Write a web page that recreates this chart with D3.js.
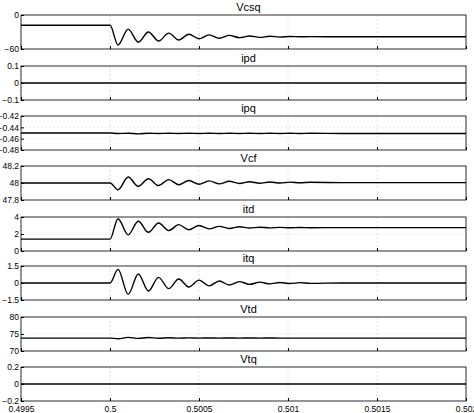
<!DOCTYPE html>
<html><head><meta charset="utf-8">
<script src="https://cdn.jsdelivr.net/npm/d3@7"></script>
<style>body{margin:0;background:#fff}text{font-family:Arial,"Liberation Sans",sans-serif}</style>
</head><body><svg id="c" width="474" height="413"></svg>
<script>
// shared time points (s): step, extrema of the ringing, settled end
var tPts = [0.4995, 0.5, 0.500045, 0.500102, 0.500159, 0.500216, 0.500273, 0.500330, 0.500386,
  0.500443, 0.500500, 0.500557, 0.500614, 0.500670, 0.500727, 0.500784, 0.500841, 0.500898,
  0.500955, 0.501011, 0.501068, 0.501125, 0.5013, 0.502];

var names = ["Vcsq", "ipd", "ipq", "Vcf", "itd", "itq", "Vtd", "Vtq"];
var vcsq = [-18, -18, -53, -25, -48, -30, -46, -32, -44, -34, -42, -35, -41, -36, -40, -37, -39.5, -37.5, -39, -38, -38.5, -38.2, -38.3, -38.3];
var ipd = [0, 0, 0, 0, 0, 0, 0, 0, 0, 0, 0, 0, 0, 0, 0, 0, 0, 0, 0, 0, 0, 0, 0, 0];
var ipq = [-0.45, -0.45, -0.451, -0.4505, -0.4515, -0.4505, -0.451, -0.4505, -0.451, -0.4505, -0.451, -0.4505, -0.451, -0.4505, -0.451, -0.4505, -0.451, -0.4505, -0.451, -0.4505, -0.451, -0.4505, -0.451, -0.451];
var vcf = [48, 48, 47.92, 48.07, 47.96, 48.05, 47.97, 48.04, 47.98, 48.03, 47.985, 48.025, 47.99, 48.02, 47.995, 48.015, 47.997, 48.012, 48.0, 48.01, 48.003, 48.008, 48.005, 48.005];
var itd = [1.4, 1.4, 3.8, 1.9, 3.5, 2.2, 3.3, 2.4, 3.1, 2.5, 3.0, 2.6, 2.9, 2.65, 2.85, 2.7, 2.8, 2.72, 2.78, 2.73, 2.77, 2.74, 2.75, 2.75];
var itq = [0, 0, 1.2, -1.0, 0.8, -0.7, 0.5, -0.5, 0.35, -0.35, 0.25, -0.25, 0.18, -0.18, 0.12, -0.12, 0.08, -0.08, 0.05, -0.05, 0.03, -0.03, 0, 0];
var vtd = [73.8, 73.8, 73.6, 74.0, 73.7, 73.95, 73.75, 73.9, 73.78, 73.85, 73.78, 73.83, 73.8, 73.82, 73.8, 73.81, 73.8, 73.81, 73.8, 73.8, 73.8, 73.8, 73.8, 73.8];
var vtq = ipd;
var series = [vcsq, ipd, ipq, vcf, itd, itq, vtd, vtq];
var domains = [[-60, 0], [-0.1, 0.1], [-0.48, -0.42], [47.8, 48.2], [0, 4], [-1.5, 1.5], [70, 80], [-0.2, 0.2]];
var yTicks = [[-60, 0], [-0.1, 0, 0.1], [-0.48, -0.46, -0.44, -0.42], [47.8, 48, 48.2], [0, 2, 4], [-1.5, 0, 1.5], [70, 75, 80], [-0.2, 0, 0.2]];
var xTicks = [0.4995, 0.5, 0.5005, 0.501, 0.5015, 0.502];

var svg = d3.select("#c");
var tops = [15, 66, 116, 166, 217, 266, 317, 367], ph = 34, left = 21, right = 466;
var x = d3.scaleLinear().domain([0.4995, 0.502]).range([left, right]);

names.forEach(function(name, i) {
  var y = d3.scaleLinear().domain(domains[i]).range([tops[i] + ph, tops[i]]);
  var g = svg.append("g");
  g.append("text").attr("x", (left + right) / 2 + 5).attr("y", tops[i] - 4)
    .attr("text-anchor", "middle").attr("font-size", 11).text(name);
  // grid
  g.selectAll(".gx").data(xTicks).enter().append("line")
    .attr("x1", x).attr("x2", x).attr("y1", tops[i]).attr("y2", tops[i] + ph)
    .attr("stroke", "#ccc").attr("stroke-width", 0.6).attr("stroke-dasharray", "2,2");
  g.selectAll(".gy").data(yTicks[i]).enter().append("line")
    .attr("x1", left).attr("x2", right).attr("y1", y).attr("y2", y)
    .attr("stroke", "#ddd").attr("stroke-width", 0.6).attr("stroke-dasharray", "2,2");
  var ya = g.append("g").attr("transform", "translate(" + left + ",0)")
    .call(d3.axisLeft(y).tickValues(yTicks[i]).tickSize(-3).tickPadding(2).tickFormat(d3.format("")));
  ya.selectAll("text").attr("font-size", 8.5).attr("fill", "#000");
  ya.select(".domain").remove();
  var xa = g.append("g").attr("transform", "translate(0," + (tops[i] + ph) + ")")
    .call(d3.axisBottom(x).tickValues(xTicks).tickSize(-3).tickFormat(i == 7 ? d3.format("") : ""));
  xa.selectAll("text").attr("font-size", 8.5).attr("fill", "#000").attr("dy", "0.9em");
  xa.select(".domain").remove();
  g.append("rect").attr("x", left).attr("y", tops[i]).attr("width", right - left).attr("height", ph)
    .attr("fill", "none").attr("stroke", "#000").attr("stroke-width", 0.8);
  var line = d3.line().x(function(d, k) { return x(tPts[k]); }).y(function(d) { return y(d); })
    .curve(d3.curveMonotoneX);
  g.append("path").datum(series[i]).attr("d", line).attr("fill", "none")
    .attr("stroke", "#000").attr("stroke-width", 1.4);
});
</script></body></html>
